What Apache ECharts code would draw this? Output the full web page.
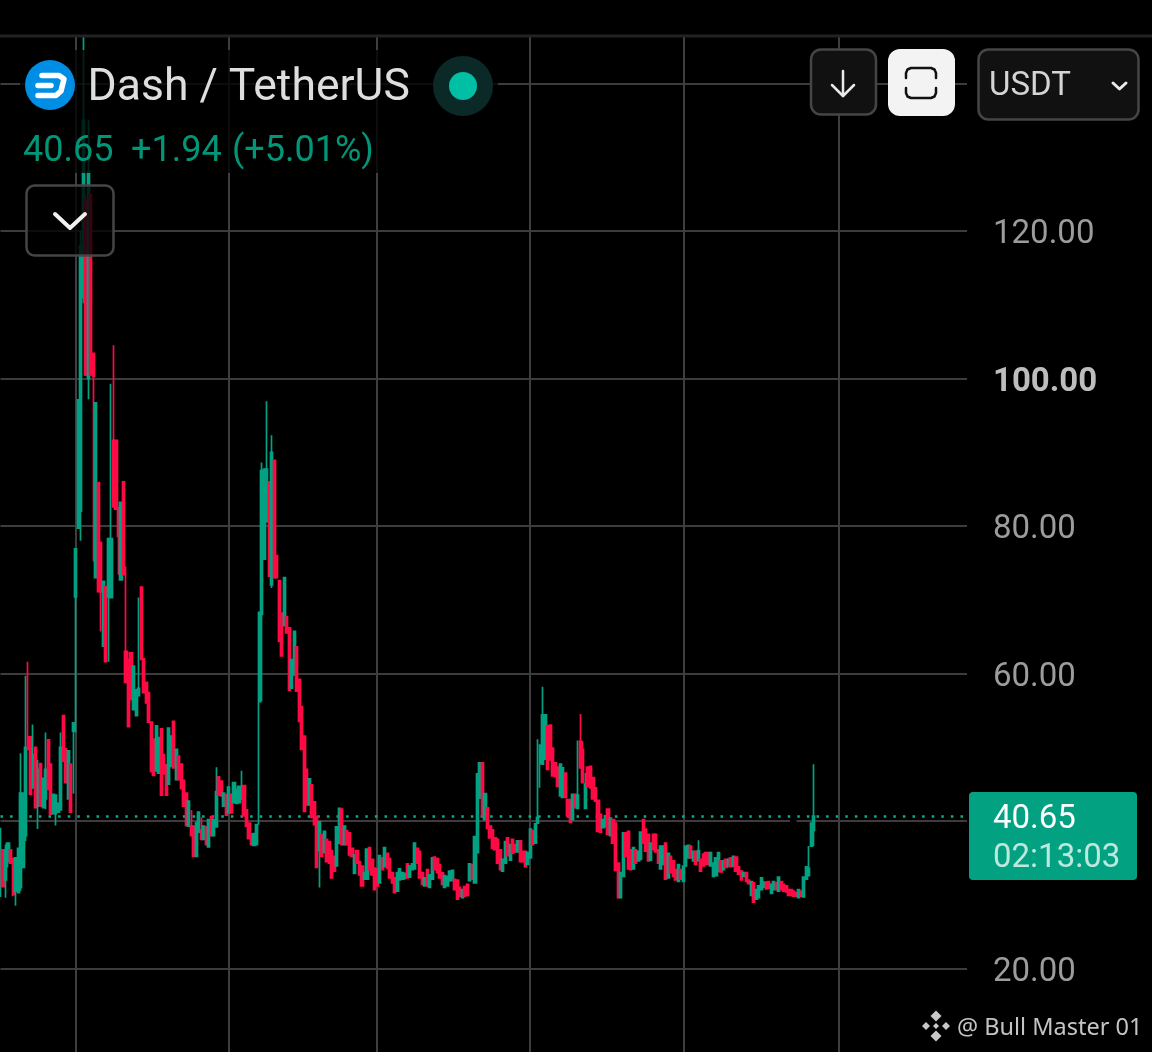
<!DOCTYPE html>
<html>
<head>
<meta charset="utf-8">
<style>html,body{margin:0;padding:0;background:#000}#c{width:1152px;height:1052px}</style>
<script src="https://cdn.jsdelivr.net/npm/echarts@6/dist/echarts.min.js"></script>
</head>
<body>
<div id="c"></div>
<script>
// Each row: [open, close] or [open, close, low, high]; rows grouped between vertical grid lines.
const rangeA = [[33,36,29.7,39.1],[36.1,31.1],[32,36,29.6,36.8],[34.5,37,33.7,37],[36.1,34.3],[34.9,30,29.8,34.9],[30.5,35,28.5,35],[30.3,36.3],[31,43.8,30.5,49.2],[33.7,43.8],[38,50,37.3,59.7],[51.4,49.7,49.6,61.6],[51.4,43.6],[44.5,49,44.5,53.1],[50,41.8],[42,47,38.9,48.3],[47.8,42],[41.8,45.8],[43,47,41.6,52],[51,44.3],[47.7,40.9],[41,43.6],[41,43.5,39.4,43.5],[41.2,42.4],[41.5,50,41.5,52],[54.3,48.1],[49.8,45.2],[43,49.5,42.9,49.5],[47.7,41.2],[52.2,53.3,43.7,53.3]];
const rangeB = [[70.4,76.9,52,77],[79.7,97.1],[82,118,78,120],[111,135,110.2,146.5],[124,100.5,100.3,125],[100,128,97.2,135.1],[124.9,100.5],[103.4,100.3,75.2,103.4],[73,96.7],[85.9,71.1],[77.8,71.1,65.7,77.8],[63.7,72.5],[71.8,61.6],[70.4,78.3,61.6,78.3],[70.3,78.3,70.3,99.3],[91.6,82.6,82.6,104.5],[91.6,82.3],[82.5,78.6,73.4,82.5],[72.7,83.2],[86,73.4],[63,58.8,58.8,74.5],[61.9,52.8],[62.8,56.5],[55.1,61],[54.3,57.8],[57,58,57,70.3],[71.7,61.9],[62,57.4],[58.8,56],[57.4,53.4],[53.4,46.7],[51.1,46.2],[46.8,52.9],[46.5,51.3],[52.5,43.5],[49,46.4],[47.6,43.5],[45,52.6],[47.4,51.5],[53.5,47.2],[45.6,49.7],[48.8,45.6],[47.7,44.4],[45.5,42],[43.8,39.4],[39.3,42.7],[39.3,38,38,41.5],[39.3,35.2],[35.2,39.8],[38.5,41.2],[38.8,37.5,37.5,40.5],[37.5,39.3],[39.2,36.8],[36.5,40.2],[40.6,38],[38,40.2],[39.2,44,39.2,47.3],[46,43.5],[45.4,43.4],[42,43.8],[43.6,40.8]];
const rangeC = [[41.1,44.6],[43.6,41.1],[42.5,45.2],[42.4,44.3],[42.5,44.7],[43,44.5,43,46.8],[44.8,40.7],[41.5,39.3],[39.7,37.6],[38.2,36.8],[36.7,38.3],[36.8,39.5],[56.2,68.3,39.5,68.3],[68,87.5,56.2,88.6],[75.5,87.7],[80.6,87.7,80.6,96.9],[86,73.2],[72,90,71.6,92.3],[88.9,73],[76,73],[72.6,64.4],[68.2,62.4],[66.5,73],[67.7,65.5],[66.2,57.7],[58,61.9],[59.8,65.7],[63.6,57.6],[59.2,53.5],[55.5,49.7],[51.5,41.3],[47,42.2],[42.2,45.7],[44.9,40.5],[42.6,39.5],[40.6,33.7],[36,39.9,31,40],[38.2,35.2],[35.7,38.6],[37.5,34.5],[37.2,34.3],[36,32.3],[35.2,33.2],[33.9,39.2],[37,41.7],[41.6,36.8],[36.8,39.3],[38.7,36.8],[38.4,35.4],[36.3,35.2],[32.9,35.4],[36,34.3],[34.5,32.7],[33.9,31.2],[32.1,33],[32.1,36.2],[36.4,33.4],[34.8,32.7],[33.6,30.7]];
const rangeD = [[33.5,31.2],[31.6,35.3],[35,33.4],[33.8,36.4],[35.6,33.6],[34.9,32.3],[33,31.6],[32.3,30.3],[30.5,33],[32,33.5],[32.1,33],[32.2,32.9],[34.2,32.3],[32.4,33.9],[33.4,34.2],[33.5,37],[36.3,34.3],[35.9,32.3],[33,31.4],[31.2,32.3],[33.4,31.2],[31,32.7],[32.1,35],[35.1,33.4],[34.9,33],[34.1,32.3],[33,31.4],[31,32.6],[31.2,32.5],[31.9,33.2],[31.9,33.3],[32.1,30.7],[32,29.4],[31,29.8],[29.6,30.7],[31.1,29.8],[31.4,29.9],[31.9,34.2],[34.1,32.1],[31.6,37.9],[35.7,46.4],[43.1,47.9],[47.9,40.7],[40.2,43.7],[41.8,39],[39.3,37.7],[38.8,36.3],[37.7,36.1],[37.5,34.3],[36.1,33.4],[33.2,34.8],[34.3,37.2],[37.7,35.3],[34.7,36.8],[37.5,35.6],[36.8,35.8],[35.8,37.3],[37.3,34.5],[35.9,34.5],[35.9,33.8],[34.1,35.7]];
const rangeE = [[35,38.9],[38.7,36.8],[37,39.6],[39.7,40.5,39.7,51.1],[47.8,50.3,44.5,50.3],[47.7,54.4,47.7,58.2],[48.4,54.4],[52.9,47],[53,48.3],[49.9,46.1],[47.9,46],[47.3,44.7],[43.4,47.7],[43.2,47.2],[46.5,43.2],[42.9,40.7],[42.9,39.8],[40.2,43.6],[43.6,41.8],[41.7,43.5,41.7,50.9],[50.8,47.2,47.2,54.5],[49.7,45.2,45.2,50.8],[41.7,45,41.7,46.5],[47.3,44.7],[47.4,44.5],[45.9,43],[44.5,42.7],[42.8,38.6],[40.9,38.5],[39.1,40.2],[39.3,40.7],[41.6,38.2],[38,40.4],[40.2,37],[39.7,33.3],[34.3,29.6],[29.6,33],[32.5,38.4],[38.4,35.2],[38.6,33.5],[36.1,33.4],[33.5,36.4],[36.1,34.3],[34.6,35.9],[34.8,38.5],[40.2,37],[38.9,35.9],[38.2,34.6],[34.7,37],[38.2,36.1],[38.2,35.8],[36.1,34.3],[33.5,36.6],[34.1,36.6],[37,32.1],[32.3,35.6],[35.2,33],[34.6,32.5],[33.4,32],[31.8,34.1],[33.4,32.1]];
const rangeF = [[31.8,33.9],[33.9,36.6],[35,36.7],[36.6,35],[34.6,35.9],[35.9,34.1],[34.6,36,34.6,37.4],[34.8,33.2],[35.5,33.9],[35.7,34.1],[35.7,34.1],[33.9,35.7],[32.5,34.3],[32.6,35],[33.2,35.7],[34.6,33.1],[33.4,34.6],[34.8,33.7],[33.9,34.8],[35,33.8],[33.9,35.2],[35.1,33.2],[33.8,32.8],[33.2,32],[32.5,33],[33,31.8],[32,31.5],[29.9,31.8],[31.6,29],[29.4,30.7],[29.6,31.2],[30.7,32.3],[31,31.7],[31.7,30.8],[31.8,30.9],[30.2,31.4],[30.7,31.8],[31.6,30.7],[30.5,32.4],[31.8,30.7],[31.4,30.5],[31.2,30.4],[30.7,29.9],[30.7,29.9],[30.5,29.8],[30.3,29.8],[29.6,30.7],[30.5,29.8],[29.7,32.4],[32.1,33.8],[32.6,33.6,32.6,36.6],[36.6,39.7],[38.71,40.65,36.6,47.7]];
const slotCount = 386;
const gridLineSlots = [30, 91, 150, 211, 272, 334];
const priceTicks = ["120.00", "100.00", "80.00", "60.00", "20.00"];
const lastPrice = 40.65;
const GREEN = '#02A182', RED = '#FF0A45';

const rows = [].concat(rangeA, rangeB, rangeC, rangeD, rangeE, rangeF);
const categories = Array.from({length: slotCount}, (_, i) => String(i));
const candleData = rows.map(r => {
  const lo = r.length > 2 ? r[2] : Math.min(r[0], r[1]);
  const hi = r.length > 2 ? r[3] : Math.max(r[0], r[1]);
  return [r[0], r[1], lo, hi];
});

const F = 'Roboto, sans-serif';
const txt = (text, x, y, size, fill, extra) => ({type:'text', z:20, style:Object.assign({text, x, y, font:`${size}px ${F}`, fill, textVerticalAlign:'middle'}, extra||{})});
const line = (points, stroke, w) => ({type:'polyline', z:20, shape:{points}, style:{stroke, lineWidth:w, fill:null, lineCap:'round', lineJoin:'round'}});
const box = (x,y,width,height,r,fill,stroke,lw,z) => ({type:'rect', z:z||15, shape:{x,y,width,height,r}, style:{fill, stroke:stroke||null, lineWidth:lw||0}});
const dia = (cx,cy,s,fill) => ({type:'polygon', z:20, shape:{points:[[cx,cy-s],[cx+s,cy],[cx,cy+s],[cx-s,cy]]}, style:{fill}});

const overlay = [
  box(790,818,6.5,6,0,'#000',null,0,1),
  box(0,0,1152,35,0,'#000',null,0,12),
  box(0,34.5,1152,3,0,'#222',null,0,13),
  box(20,50,478,123,0,'rgba(0,0,0,0.78)',null,0,14),
  {type:'circle', z:20, shape:{cx:50,cy:85,r:25}, style:{fill:'#008DE4'}},
  line([[42,75.5],[59,75.5],[64,79],[61,91],[56,95.5],[38,95.5]],'#fff',5.5),
  line([[38,85.5],[51,85.5]],'#fff',5.5),
  txt('Dash / TetherUS',87.5,88.5,44.5,'#DEDEDE'),
  {type:'circle', z:20, shape:{cx:463,cy:86,r:30}, style:{fill:'#0B2A27'}},
  {type:'circle', z:21, shape:{cx:463,cy:86,r:14}, style:{fill:'#00BFA5'}},
  txt('40.65',23,152,36,'#029678'),
  txt('+1.94',131,152,36,'#029678'),
  txt('(+5.01%)',232,152,36,'#029678'),
  box(26.5,185.5,87,70,8,'rgba(0,0,0,0.78)','#454545',2.5),
  line([[55,214],[70,228],[85,214]],'#F0F0F0',4),
  box(811,49.5,65,65,10,'#111','#454545',2.5),
  line([[843,71],[843,96]],'#EAEAEA',2.5),
  line([[832,85],[843,96],[854,85]],'#EAEAEA',2.5),
  box(888,49,67,67,12,'#F3F3F3'),
  line([[906,78],[906,73],[907.5,69.5],[911,68],[931,68],[934.5,69.5],[936,73],[936,78]],'#111',2.5),
  line([[906,88],[906,93],[907.5,96.5],[911,98],[931,98],[934.5,96.5],[936,93],[936,88]],'#111',2.5),
  box(978.5,49.5,160,70,10,'#111','#454545',2.5),
  txt('USDT',989,87,33,'#D4D4D4'),
  line([[1113,83],[1119.5,89],[1126,83]],'#EAEAEA',3),
  box(969,792,168,88,4,'#02A182'),
  txt('40.65',993,820,33,'#FFFFFF'),
  txt('02:13:03',993,859,33,'#BCE8DE'),
  dia(936,1016,5.5,'#C8C8C8'), dia(936,1036,5.5,'#C8C8C8'), dia(926,1026,4,'#C8C8C8'), dia(946,1026,4,'#C8C8C8'), dia(936,1026,3,'#C8C8C8'),
  txt('@ Bull Master 01',957,1028,23.5,'#C4C4C4',{font:'23.5px "Noto Sans", sans-serif'})
];

const chart = echarts.init(document.getElementById('c'), null, {renderer:'canvas'});
chart.setOption({
  backgroundColor:'#000',
  animation:false,
  grid:{left:0.5, top:-64, width:966.5, height:1180, containLabel:false, outerBoundsMode:'none'},
  xAxis:{
    type:'category', data:categories, boundaryGap:false,
    axisLine:{show:false}, axisTick:{show:false}, axisLabel:{show:false},
    splitLine:{show:true, interval:(i)=>gridLineSlots.includes(i), lineStyle:{color:'#3E3E3E', width:2}}
  },
  yAxis:{
    type:'value', position:'right', min:0, max:160, interval:20,
    axisLine:{show:false}, axisTick:{show:false},
    splitLine:{show:true, lineStyle:{color:'#3C3C3C', width:2}},
    axisLabel:{
      show:true, inside:false, align:'left', margin:26, fontFamily:'Roboto, sans-serif', fontSize:33, color:'#9C9C9C',
      padding:[8,0,0,0],
      formatter:(v)=>{
        const s = v.toFixed(2);
        if(!priceTicks.includes(s)) return '';
        return v===100 ? '{b|'+s+'}' : s;
      },
      rich:{b:{fontFamily:'Roboto, sans-serif', fontSize:33, fontWeight:'bold', color:'#BDBDBD'}}
    }
  },
  series:[{
    type:'candlestick', data:candleData, barWidth:2.6, large:false, clip:false, z:5,
    itemStyle:{color:GREEN, color0:RED, borderColor:GREEN, borderColor0:RED, borderWidth:1.7},
    markLine:{
      silent:true, symbol:'none', animation:false, label:{show:false},
      lineStyle:{color:'#05B091', type:[2.5,7.1], width:2.5, opacity:1},
      data:[{yAxis:lastPrice}]
    }
  }],
  graphic:{elements:overlay}
});
</script>
</body>
</html>
